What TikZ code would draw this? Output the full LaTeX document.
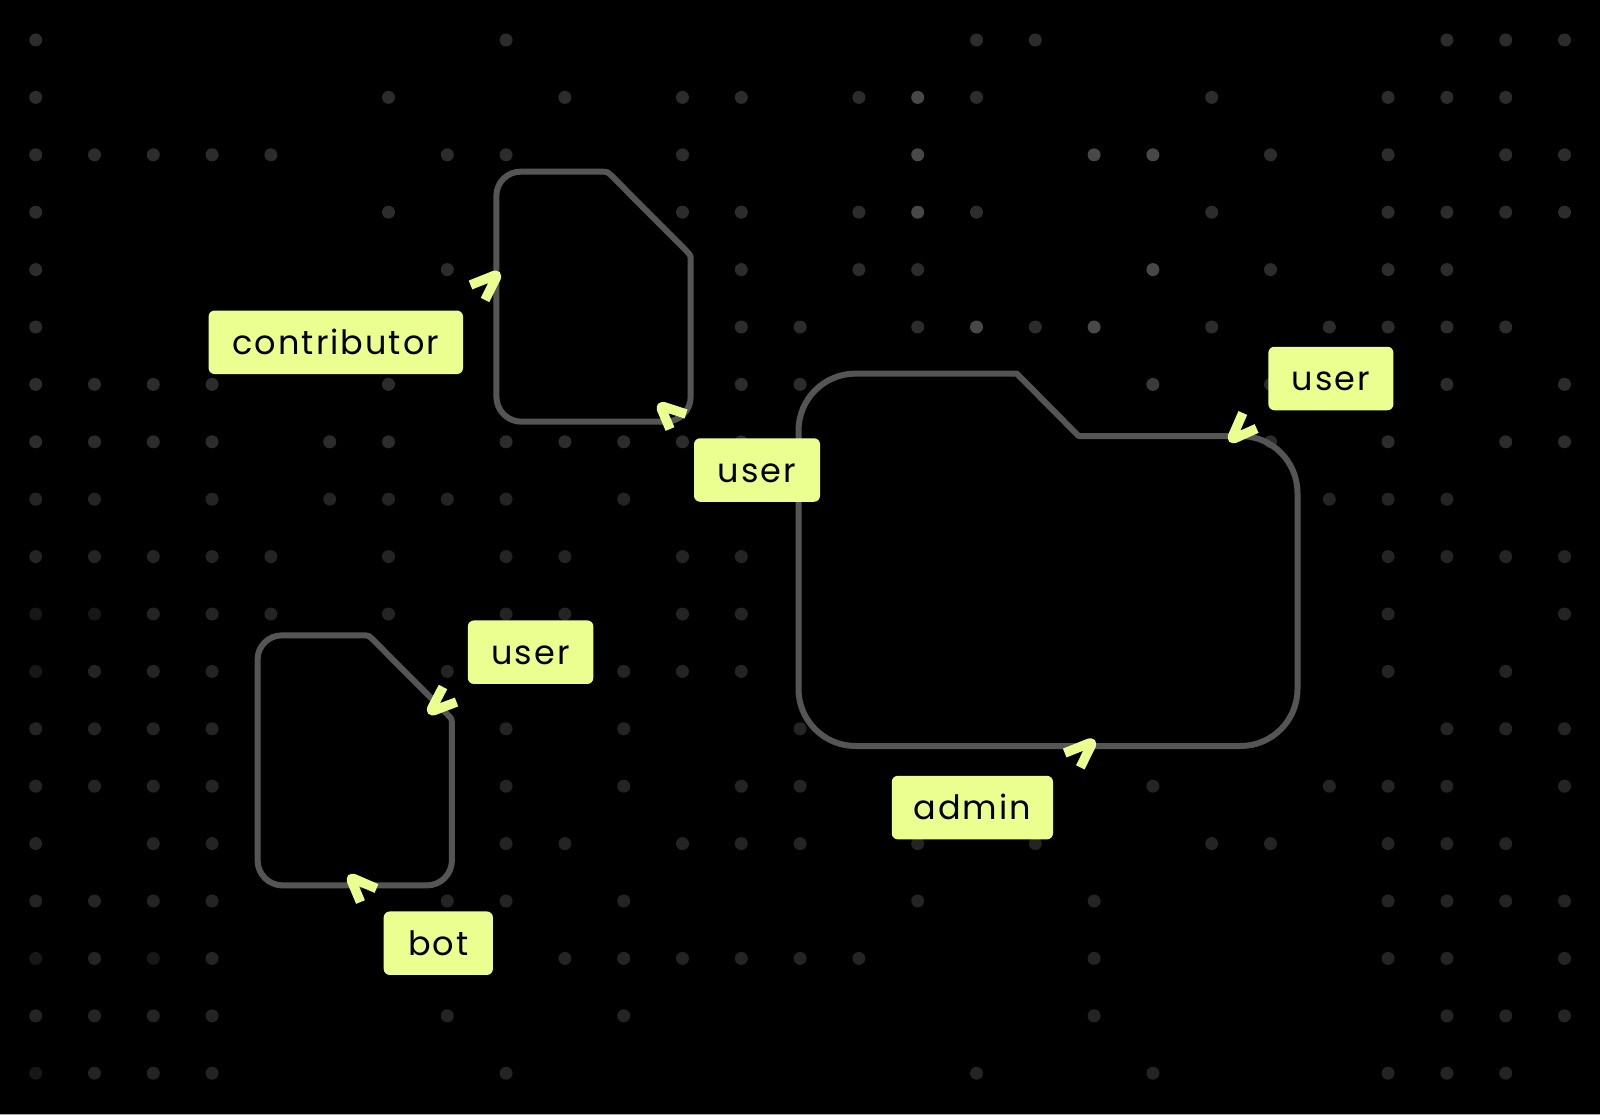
\documentclass[tikz,border=0pt]{standalone}
\usepackage{fontspec}
\newfontfamily\labelfont[LetterSpace=6]{Poppins}
\definecolor{lime}{HTML}{EAFF90}
\definecolor{outline}{HTML}{555555}
\definecolor{da}{HTML}{171717}
\definecolor{db}{HTML}{242424}
\definecolor{dc}{HTML}{2C2C2C}
\definecolor{dd}{HTML}{3A3A3A}
\definecolor{de}{HTML}{484848}
\tikzset{
  tag/.style={fill=lime,rounded corners=6pt,inner sep=0pt,text=black,
    minimum height=63.5pt,text height=24pt,text depth=0pt,
    font=\labelfont\fontsize{33.5}{38}\selectfont,anchor=center},
  shapeline/.style={draw=outline,line width=6pt,line join=round},
  chevron/.style={draw=lime,line width=9.5pt,line join=round,line cap=butt,rounded corners=4pt}
}
\newcommand{\dotrow}[3]{\foreach \c in {#2}{\fill[#3] ({35.7+58.8*\c},{40+57.4*#1}) circle (6.5pt);}}
\newcommand{\filepath}{(496.4,195.7) .. controls (496.4,182.5) and (507.2,171.7) .. (520.4,171.7)
  -- (601,171.7) .. controls (607.5,171.7) .. (612,176.2)
  -- (686.2,250.7) .. controls (690.7,255.2) .. (690.7,261.5)
  -- (690.7,396.7) .. controls (690.7,410.5) and (679.5,421.7) .. (665.7,421.7)
  -- (521.4,421.7) .. controls (507.6,421.7) and (496.4,410.5) .. (496.4,396.7) -- cycle}
\begin{document}
\begin{tikzpicture}[x=1pt,y=-1pt]
\useasboundingbox (0,0) rectangle (1600,1115);
\fill[black] (0,0) rectangle (1600,1115);
\draw[gray!70,line width=1pt] (0,1114.5) -- (1600,1114.5);
% dot field
\dotrow{0}{0,8,16,17,24,25,26}{dc}
\dotrow{1}{0,6,9,11,12,14,16,20,23,24,25}{dc}
\dotrow{1}{15}{de}
\dotrow{2}{0,1,2,3,4,7,8,11,21,23,25,26}{dc}
\dotrow{2}{15,18,19}{de}
\dotrow{3}{0,6,11,12,14,16,20,23,24,25,26}{dc}
\dotrow{3}{15}{de}
\dotrow{4}{0,7,12,14,15,21,23,24}{dc}
\dotrow{4}{19}{de}
\dotrow{5}{0,12,13,15,17,20,22,23,24,25}{dc}
\dotrow{5}{16,18}{de}
\dotrow{6}{0,1,2,3,6,12,13,21,24,26}{dc}
\dotrow{6}{19}{dd}
\dotrow{7}{0,1,2,3,5,6,8,9,10,11,12,21,23,25,26}{dc}
\dotrow{8}{0,1,3,5,6,7,8,10,22,23,24}{db}
\dotrow{9}{0,1,2,3,4,6,8,9,11,12,23,24,25,26}{db}
\dotrow{10}{2,3,4,6,8,9,11,12,23,26}{db}
\dotrow{10}{0,1}{da}
\dotrow{11}{1,2,3,7,10,11,12,23,25}{db}
\dotrow{11}{0}{da}
\dotrow{12}{0,1,2,3,8,10,13,24,25,26}{db}
\dotrow{13}{0,1,2,3,8,10,12,13,19,22,23,24,26}{db}
\dotrow{14}{0,2,3,8,9,11,12,13,15,17,20,21,23,24,25}{db}
\dotrow{15}{0,1,2,3,7,8,10,15,18,23,24,25,26}{db}
\dotrow{16}{1,3,9,10,11,12,13,14,18,23,24,26}{db}
\dotrow{16}{0,2}{da}
\dotrow{17}{0,1,2,3,7,10,18,24,25,26}{db}
\dotrow{18}{1,2,3,8,16,19,23,24,25}{db}
\dotrow{18}{0}{da}
% outlines
\draw[shapeline] \filepath;
\begin{scope}[shift={(-238.8,463.7)}]
\draw[shapeline] \filepath;
\end{scope}
\draw[shapeline,rounded corners=57pt] (798.5,560) -- (798.5,373.6)
  [rounded corners=0pt] -- (1016.8,373.6) -- (1078.6,436)
  [rounded corners=57pt] -- (1297.5,436) -- (1297.5,746) -- (798.5,746) -- cycle;
% cursors
\draw[chevron] (470.5,285) -- (498,274) -- (485,300);
\draw[chevron] (686,414) -- (660,405.5) -- (670,429);
\draw[chevron] (1242.8,413) -- (1231,440) -- (1256.6,428.5);
\draw[chevron] (1064.7,753) -- (1093,741.7) -- (1080.3,767.3);
\draw[chevron] (376.5,888.5) -- (350,877) -- (360.5,902);
\draw[chevron] (443,687) -- (430,712) -- (456.5,702);
% labels
\node[tag,minimum width=254.4pt] (contributor) at (335.8,342.3) {contributor};
\node[tag,minimum width=126pt] (usera) at (757,470) {user};
\node[tag,minimum width=125pt] (userb) at (1330.9,378.5) {user};
\node[tag,minimum width=125.5pt] (userc) at (530.6,652.2) {user};
\node[tag,minimum width=109.2pt] (bot) at (438.3,943.2) {bot};
\node[tag,minimum width=161.2pt] (admin) at (972.4,807.6) {admin};
\end{tikzpicture}
\end{document}
